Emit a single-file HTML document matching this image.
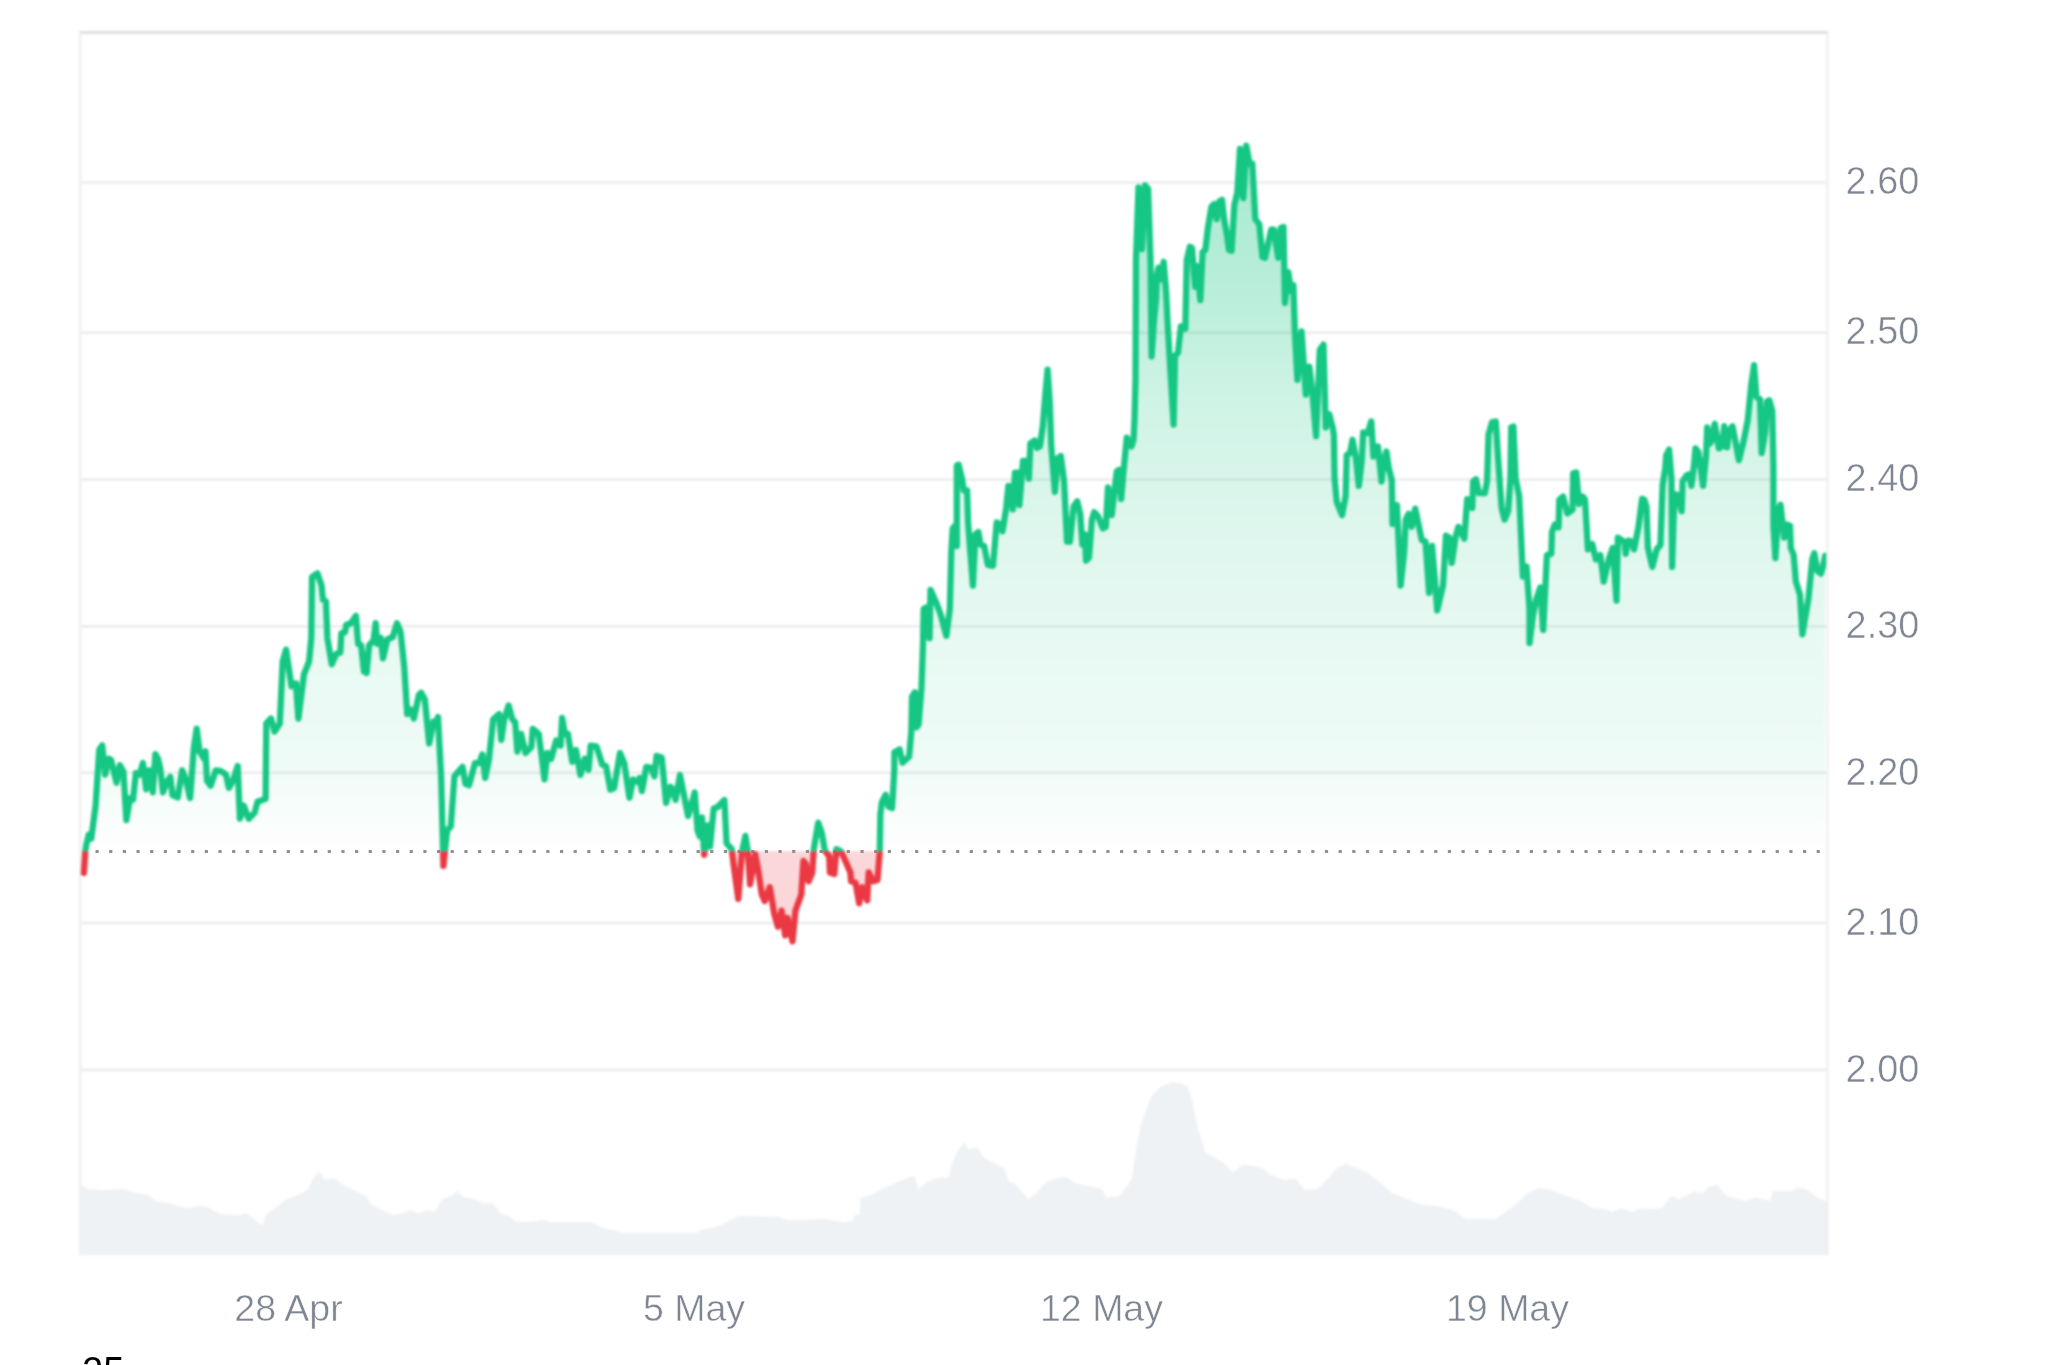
<!DOCTYPE html>
<html lang="en"><head><meta charset="utf-8"><title>Chart</title>
<style>
html,body{margin:0;padding:0;background:#fff;}
body{width:2048px;height:1365px;overflow:hidden;position:relative;font-family:"Liberation Sans",Arial,sans-serif;}
svg{position:absolute;left:0;top:0;display:block}
text{font-family:"Liberation Sans",Arial,sans-serif;}
</style></head><body>
<svg width="2048" height="1365" viewBox="0 0 2048 1365">
<defs>
<linearGradient id="gg" gradientUnits="userSpaceOnUse" x1="0" y1="145" x2="0" y2="851.2">
<stop offset="0.0000" stop-color="#16c784" stop-opacity="0.380"/>
<stop offset="0.2053" stop-color="#16c784" stop-opacity="0.300"/>
<stop offset="0.3611" stop-color="#16c784" stop-opacity="0.205"/>
<stop offset="0.5310" stop-color="#16c784" stop-opacity="0.145"/>
<stop offset="0.7293" stop-color="#16c784" stop-opacity="0.095"/>
<stop offset="0.8779" stop-color="#16c784" stop-opacity="0.068"/>
<stop offset="1.0000" stop-color="#16c784" stop-opacity="0.000"/>
</linearGradient>
<clipPath id="up"><rect x="79" y="0" width="1747.3" height="851.2"/></clipPath>
<clipPath id="dn"><rect x="79" y="851.2" width="1747.3" height="600"/></clipPath>
<filter id="b1" filterUnits="userSpaceOnUse" x="0" y="0" width="2048" height="1365" color-interpolation-filters="sRGB"><feGaussianBlur stdDeviation="0.85"/></filter>
</defs>
<g filter="url(#b1)">
<rect x="-10" y="-10" width="2068" height="1385" fill="#ffffff"/>

<g stroke="#ececec" stroke-width="2.6" fill="none">
<line x1="80.0" y1="182.5" x2="1827.5" y2="182.5"/>
<line x1="80.0" y1="332.6" x2="1827.5" y2="332.6"/>
<line x1="80.0" y1="479.5" x2="1827.5" y2="479.5"/>
<line x1="80.0" y1="626.2" x2="1827.5" y2="626.2"/>
<line x1="80.0" y1="772.8" x2="1827.5" y2="772.8"/>
<line x1="80.0" y1="923.0" x2="1827.5" y2="923.0"/>
<line x1="80.0" y1="1069.9" x2="1827.5" y2="1069.9"/>
</g>
<path d="M79.4 1255.3 L79.4 1184.3 L87.6 1188.7 L105.2 1190.1 L122.7 1188.7 L137.4 1193.0 L147.6 1194.5 L155.0 1200.4 L169.6 1203.3 L178.4 1206.2 L190.1 1207.7 L198.9 1205.4 L207.7 1207.1 L219.4 1214.1 L239.9 1215.0 L245.8 1213.0 L254.6 1219.4 L261.9 1225.3 L266.3 1213.6 L275.1 1207.7 L286.8 1198.9 L295.6 1196.0 L307.3 1190.1 L313.2 1178.4 L319.0 1171.1 L324.9 1179.9 L333.7 1177.8 L342.5 1184.3 L351.2 1188.7 L365.9 1196.0 L371.8 1204.8 L383.5 1210.6 L392.3 1215.0 L401.1 1213.6 L409.8 1210.0 L418.6 1213.6 L427.4 1210.0 L434.7 1212.1 L442.1 1198.9 L453.8 1194.5 L456.7 1190.7 L462.6 1196.6 L474.3 1198.9 L483.1 1203.3 L493.3 1203.3 L500.7 1213.6 L509.5 1215.9 L516.8 1221.8 L532.9 1221.8 L541.7 1219.4 L550.5 1222.3 L568.0 1222.3 L591.5 1222.3 L600.3 1226.7 L614.9 1230.5 L620.8 1232.6 L650.1 1232.6 L696.9 1232.6 L701.3 1229.7 L717.4 1226.7 L729.1 1220.9 L737.9 1215.9 L778.9 1216.5 L787.7 1220.0 L814.1 1219.4 L825.8 1218.8 L843.4 1222.3 L852.1 1220.9 L855.1 1215.0 L859.5 1215.0 L860.4 1197.4 L872.7 1194.5 L884.4 1187.2 L896.1 1182.8 L907.8 1177.8 L915.1 1175.5 L918.1 1190.1 L925.4 1182.8 L934.2 1178.4 L948.8 1176.9 L951.8 1163.8 L957.6 1150.6 L964.9 1141.8 L967.9 1149.1 L978.1 1147.6 L984.0 1157.9 L995.7 1163.8 L1004.5 1168.1 L1008.9 1181.3 L1016.2 1184.3 L1027.9 1198.9 L1036.7 1193.0 L1045.5 1182.8 L1054.3 1178.4 L1066.0 1176.9 L1074.8 1182.8 L1086.5 1185.7 L1101.2 1188.7 L1107.0 1197.4 L1118.8 1196.0 L1127.5 1185.7 L1131.9 1178.4 L1136.3 1146.2 L1142.2 1119.8 L1151.0 1096.4 L1159.8 1087.6 L1171.5 1082.3 L1180.3 1083.2 L1187.6 1086.1 L1192.0 1099.3 L1197.9 1128.6 L1205.2 1152.0 L1215.4 1157.9 L1224.2 1163.8 L1233.0 1172.5 L1241.8 1165.2 L1250.0 1165.2 L1263.4 1168.1 L1269.3 1174.0 L1283.9 1179.9 L1295.7 1178.4 L1304.5 1190.1 L1317.6 1188.7 L1327.9 1178.4 L1336.7 1168.1 L1345.5 1163.8 L1357.2 1168.1 L1368.9 1174.0 L1380.6 1182.8 L1392.3 1193.0 L1407.0 1198.9 L1421.6 1204.8 L1439.2 1206.2 L1453.9 1210.6 L1465.6 1218.8 L1494.9 1218.8 L1503.7 1213.0 L1515.4 1204.8 L1527.1 1193.0 L1538.8 1188.1 L1550.5 1189.5 L1562.3 1194.5 L1579.8 1200.4 L1591.6 1207.7 L1606.2 1209.2 L1612.1 1212.1 L1620.9 1208.3 L1632.6 1212.1 L1638.4 1208.6 L1661.9 1208.3 L1670.7 1196.0 L1679.5 1198.9 L1694.1 1191.6 L1702.9 1193.0 L1708.8 1186.6 L1717.5 1184.8 L1726.3 1196.0 L1738.0 1198.9 L1746.8 1200.4 L1755.6 1197.4 L1770.3 1200.4 L1773.2 1190.7 L1790.8 1190.7 L1796.6 1188.1 L1805.4 1188.7 L1817.1 1197.4 L1828.3 1201.8 L1828.3 1255.3 Z" fill="#eff2f5"/>
<line x1="79.0" y1="32.5" x2="1828.5" y2="32.5" stroke="#e0e0e0" stroke-width="3.2"/>
<line x1="80.2" y1="32.5" x2="80.2" y2="1255.3" stroke="#f0f0f0" stroke-width="2.6"/>
<line x1="1827.5" y1="32.5" x2="1827.5" y2="1255.3" stroke="#f0f0f0" stroke-width="2.4"/>
<path d="M83.9 872.8 L85.3 851.0 L86.7 843.0 L88.8 834.6 L91.3 838.6 L92.4 829.8 L95.6 805.5 L99.3 749.8 L102.2 745.4 L105.2 774.7 L108.4 758.6 L111.0 760.1 L116.6 782.8 L119.8 765.2 L123.5 771.8 L126.4 820.1 L130.1 798.1 L133.0 799.6 L135.9 773.2 L139.6 774.7 L142.9 763.0 L146.2 789.4 L149.1 770.3 L152.8 792.3 L155.4 754.2 L157.9 758.6 L160.1 767.4 L163.0 792.3 L166.7 782.0 L170.3 776.9 L172.5 795.2 L177.7 797.4 L182.1 770.3 L185.7 779.1 L190.1 798.1 L193.8 748.3 L196.7 728.6 L199.6 751.3 L204.0 758.6 L205.5 751.3 L207.0 780.6 L210.6 785.7 L215.8 770.3 L220.9 771.0 L226.0 774.7 L228.9 787.9 L233.3 779.8 L237.7 765.9 L239.9 818.7 L243.6 805.5 L248.7 818.7 L254.6 812.8 L257.5 801.8 L265.6 798.9 L266.3 723.4 L271.0 718.5 L274.6 731.6 L279.8 723.6 L282.7 661.3 L286.1 649.6 L291.5 686.2 L295.9 683.3 L298.4 718.5 L303.9 674.5 L309.1 661.3 L311.3 637.9 L312.0 577.1 L317.4 573.4 L321.5 585.2 L323.0 599.8 L325.9 601.3 L327.4 637.9 L331.8 664.3 L336.2 654.0 L340.3 652.5 L341.3 633.5 L345.0 632.0 L346.4 624.7 L350.8 623.2 L355.9 615.9 L358.1 643.8 L361.1 645.2 L364.0 671.6 L366.6 673.0 L369.1 645.2 L373.5 640.8 L375.7 623.2 L377.2 643.8 L380.8 637.9 L383.0 658.4 L387.4 639.4 L392.6 637.2 L397.0 623.2 L400.6 632.0 L404.3 667.2 L407.2 714.1 L410.9 709.7 L413.8 718.5 L418.9 695.0 L421.1 692.8 L424.8 699.4 L429.2 743.4 L433.6 721.4 L435.8 725.8 L438.0 717.0 L441.2 777.9 L443.4 865.8 L447.1 830.6 L450.8 826.2 L454.4 776.4 L462.5 766.9 L465.4 783.8 L469.1 785.2 L474.9 763.2 L479.3 763.2 L482.3 754.5 L485.2 777.9 L488.8 760.3 L493.2 719.3 L499.1 714.2 L501.3 739.8 L504.2 719.3 L508.6 705.4 L512.3 719.3 L515.2 722.2 L517.4 751.5 L521.1 733.9 L525.5 753.0 L531.3 747.1 L532.8 728.8 L538.7 733.9 L541.6 755.9 L544.5 779.4 L547.4 753.0 L551.1 758.8 L556.2 740.5 L560.6 745.7 L562.1 717.8 L565.0 733.9 L567.9 733.9 L572.3 761.8 L576.0 750.1 L580.4 775.0 L584.8 758.8 L588.5 769.8 L590.7 745.7 L596.5 746.4 L602.4 764.7 L606.0 766.2 L610.4 789.6 L614.1 788.1 L620.0 753.0 L624.3 763.2 L629.5 797.7 L633.1 779.4 L638.3 782.3 L639.7 777.9 L641.9 791.1 L646.3 766.9 L650.7 767.6 L654.4 776.4 L656.6 755.9 L661.7 757.4 L666.1 802.8 L670.5 786.7 L672.7 789.6 L675.6 799.9 L680.0 775.0 L688.1 816.0 L694.7 792.5 L697.6 830.6 L699.8 836.5 L702.0 817.4 L704.2 854.8 L707.8 825.5 L710.0 846.7 L713.7 808.7 L717.4 807.2 L724.4 800.0 L726.6 843.2 L731.7 849.1 L733.9 866.7 L738.3 898.9 L742.0 852.0 L745.4 835.9 L747.9 852.0 L750.1 884.3 L755.2 854.2 L758.1 869.6 L761.8 894.5 L764.7 901.1 L769.8 887.2 L774.2 913.6 L777.9 926.7 L781.6 910.6 L785.2 935.5 L787.4 917.9 L792.5 941.4 L795.5 910.6 L801.3 894.5 L803.5 860.8 L805.7 863.8 L808.7 881.3 L812.3 872.5 L813.8 849.1 L818.2 822.7 L821.8 833.0 L824.8 850.6 L829.2 856.4 L829.9 872.5 L834.3 874.0 L836.5 849.1 L840.9 851.3 L845.3 860.8 L850.4 872.5 L851.1 881.3 L855.5 882.8 L859.2 903.3 L862.1 887.2 L867.2 900.4 L868.7 872.5 L873.1 881.3 L877.5 879.9 L879.7 852.0 L880.4 813.9 L881.9 802.2 L885.6 794.9 L888.5 806.6 L892.1 808.1 L894.3 770.0 L894.3 769.9 L894.4 752.3 L899.6 749.4 L902.5 762.6 L909.1 756.7 L911.3 731.8 L912.0 696.7 L914.9 692.3 L916.4 727.4 L918.6 724.5 L921.5 687.9 L923.0 643.9 L923.7 608.8 L926.7 607.3 L929.6 638.1 L930.5 589.9 L935.2 600.2 L940.3 613.4 L946.4 635.9 L949.8 609.0 L951.3 551.8 L952.7 528.4 L955.4 525.5 L956.8 546.0 L956.8 465.4 L958.6 464.7 L962.3 480.1 L963.7 490.3 L967.1 490.3 L968.1 522.5 L970.3 551.8 L972.9 585.5 L975.4 534.3 L978.4 532.1 L980.6 544.5 L984.2 546.0 L987.9 565.0 L993.0 565.8 L996.7 522.5 L999.6 524.0 L1002.5 531.3 L1006.2 507.9 L1008.4 485.9 L1012.1 487.4 L1012.8 509.4 L1015.0 472.7 L1017.9 472.7 L1019.4 505.0 L1023.0 461.0 L1026.7 461.0 L1028.9 478.6 L1030.4 443.4 L1034.8 440.5 L1037.0 447.8 L1039.9 446.4 L1042.8 425.9 L1042.8 425.8 L1045.4 393.8 L1047.6 369.6 L1049.8 402.5 L1051.3 446.5 L1054.9 491.9 L1057.9 458.2 L1060.8 456.0 L1064.1 481.5 L1067.0 541.6 L1069.9 541.6 L1073.6 506.4 L1077.2 501.3 L1080.2 513.8 L1082.4 544.5 L1084.9 534.3 L1086.0 560.6 L1089.0 557.7 L1091.9 519.6 L1094.1 512.3 L1097.8 515.9 L1102.9 528.4 L1105.8 526.9 L1108.0 487.4 L1111.7 515.2 L1116.8 471.3 L1119.0 469.8 L1121.2 499.1 L1123.4 472.7 L1126.8 437.6 L1131.4 446.4 L1133.5 440.0 L1134.5 420.0 L1135.5 380.0 L1136.0 260.0 L1138.5 187.5 L1142.0 249.0 L1145.0 185.3 L1148.1 188.8 L1150.5 260.0 L1151.6 356.4 L1154.0 320.0 L1156.0 300.0 L1157.0 275.0 L1158.6 267.6 L1160.8 279.4 L1163.7 261.8 L1166.0 291.0 L1168.0 330.0 L1173.6 424.5 L1175.0 355.7 L1178.0 352.7 L1180.9 326.4 L1185.3 328.6 L1186.8 260.0 L1189.9 246.8 L1192.0 248.0 L1193.8 270.6 L1195.2 286.8 L1197.4 266.2 L1200.3 300.0 L1202.6 252.0 L1205.3 250.0 L1207.9 228.0 L1211.4 206.8 L1214.0 204.2 L1216.7 219.1 L1219.3 201.5 L1222.0 199.8 L1224.1 219.1 L1227.2 236.7 L1229.0 249.9 L1231.6 250.7 L1234.3 205.0 L1237.3 192.7 L1240.0 148.8 L1243.3 198.0 L1246.3 145.7 L1249.6 163.7 L1252.3 163.7 L1255.3 219.0 L1259.3 224.4 L1262.4 256.9 L1265.0 257.8 L1271.2 229.6 L1273.8 229.6 L1278.2 257.8 L1280.8 227.9 L1283.5 227.0 L1284.9 302.9 L1288.2 272.1 L1291.2 291.2 L1293.4 285.3 L1294.8 330.0 L1297.4 379.8 L1301.5 331.5 L1305.9 394.5 L1309.3 366.7 L1312.5 393.8 L1316.1 436.2 L1319.8 349.8 L1323.5 344.7 L1325.7 427.4 L1329.3 414.3 L1333.0 428.9 L1333.9 434.6 L1334.6 478.6 L1336.8 502.0 L1342.0 515.2 L1345.6 496.2 L1346.7 455.2 L1350.0 453.0 L1352.5 439.8 L1355.9 458.1 L1358.8 485.9 L1361.7 461.0 L1363.2 432.5 L1367.6 433.2 L1371.3 421.5 L1373.5 456.6 L1377.9 446.4 L1381.5 481.5 L1383.7 461.0 L1386.4 451.5 L1388.8 468.3 L1391.8 480.1 L1392.5 524.0 L1396.9 505.0 L1399.1 551.8 L1400.6 585.5 L1404.2 551.8 L1405.7 519.6 L1408.6 513.8 L1411.6 526.9 L1415.2 508.6 L1418.1 522.5 L1421.8 540.1 L1425.5 541.6 L1429.1 592.9 L1432.1 546.0 L1435.0 581.1 L1437.2 610.4 L1443.0 585.5 L1446.0 535.7 L1448.9 537.2 L1451.8 562.8 L1455.5 537.2 L1458.4 526.9 L1464.3 538.7 L1467.2 499.1 L1472.3 507.9 L1473.1 481.5 L1476.0 479.3 L1478.9 493.2 L1484.8 493.2 L1487.0 481.5 L1488.5 434.6 L1492.1 422.2 L1495.8 421.5 L1498.0 456.6 L1501.6 507.9 L1504.6 519.6 L1508.2 510.8 L1510.4 478.6 L1511.2 427.3 L1513.4 426.6 L1515.6 478.6 L1519.2 496.2 L1522.9 576.7 L1526.5 566.5 L1529.5 609.0 L1529.5 643.1 L1533.0 615.3 L1535.9 600.6 L1540.3 587.4 L1543.2 629.9 L1546.9 555.2 L1551.3 553.8 L1552.0 531.8 L1554.9 524.5 L1558.6 527.4 L1559.3 499.6 L1563.0 496.6 L1567.4 513.5 L1572.5 509.8 L1573.2 473.2 L1576.2 472.5 L1579.1 503.9 L1582.8 496.6 L1585.0 499.6 L1587.9 549.4 L1592.3 544.2 L1595.9 559.6 L1600.3 555.2 L1603.7 581.6 L1609.1 558.1 L1612.8 547.9 L1616.5 600.6 L1617.9 537.6 L1624.5 542.0 L1625.7 553.8 L1628.2 540.6 L1632.6 542.0 L1634.0 549.4 L1638.4 527.4 L1642.1 498.8 L1644.3 499.6 L1646.5 506.9 L1647.9 547.9 L1652.3 566.9 L1656.7 549.4 L1660.4 545.0 L1662.6 484.9 L1665.2 468.8 L1666.2 455.5 L1669.1 449.6 L1671.5 478.9 L1672.1 566.9 L1674.4 494.1 L1677.9 495.3 L1681.6 511.3 L1682.6 481.3 L1686.7 475.4 L1689.1 474.2 L1691.4 485.9 L1693.8 467.2 L1695.5 448.4 L1698.4 452.0 L1703.1 485.9 L1706.1 455.5 L1707.2 427.3 L1709.6 443.8 L1711.3 441.4 L1714.8 423.8 L1717.2 437.9 L1718.9 448.4 L1722.5 446.1 L1724.2 426.2 L1727.1 447.3 L1728.9 432.0 L1732.4 426.2 L1734.8 437.9 L1738.9 460.2 L1743.0 443.8 L1747.7 420.3 L1751.2 385.2 L1754.1 365.2 L1756.4 396.9 L1760.0 399.2 L1761.7 453.1 L1765.2 432.0 L1767.0 401.6 L1769.3 400.4 L1772.3 410.9 L1773.4 467.2 L1773.4 525.9 L1775.4 558.1 L1778.3 511.3 L1780.5 504.7 L1784.2 537.6 L1787.1 524.5 L1790.0 525.9 L1790.8 547.9 L1793.7 555.2 L1795.9 581.6 L1800.0 594.7 L1802.4 634.3 L1808.4 598.7 L1812.3 559.1 L1814.3 553.2 L1817.6 571.0 L1820.9 573.6 L1823.5 564.4 L1825.1 555.8 L1825.1 851.2 L83.9 851.2 Z" fill="url(#gg)" clip-path="url(#up)"/>
<path d="M83.9 851.2 L83.9 872.8 L85.3 851.2 Z" fill="#ea3943" fill-opacity="0.2"/>
<path d="M443.0 851.2 L443.4 865.8 L444.9 851.2 Z" fill="#ea3943" fill-opacity="0.2"/>
<path d="M704.0 851.2 L704.2 854.8 L704.6 851.2 Z" fill="#ea3943" fill-opacity="0.2"/>
<path d="M732.0 851.2 L733.9 866.7 L738.3 898.9 L742.0 852.0 L742.2 851.2 Z" fill="#ea3943" fill-opacity="0.2"/>
<path d="M747.8 851.2 L747.9 852.0 L750.1 884.3 L755.2 854.2 L758.1 869.6 L761.8 894.5 L764.7 901.1 L769.8 887.2 L774.2 913.6 L777.9 926.7 L781.6 910.6 L785.2 935.5 L787.4 917.9 L792.5 941.4 L795.5 910.6 L801.3 894.5 L803.5 860.8 L805.7 863.8 L808.7 881.3 L812.3 872.5 L813.7 851.2 Z" fill="#ea3943" fill-opacity="0.2"/>
<path d="M825.3 851.2 L829.2 856.4 L829.9 872.5 L834.3 874.0 L836.3 851.2 Z" fill="#ea3943" fill-opacity="0.2"/>
<path d="M840.7 851.2 L840.9 851.3 L845.3 860.8 L850.4 872.5 L851.1 881.3 L855.5 882.8 L859.2 903.3 L862.1 887.2 L867.2 900.4 L868.7 872.5 L873.1 881.3 L877.5 879.9 L879.7 852.0 L879.7 851.2 Z" fill="#ea3943" fill-opacity="0.2"/>
</g>
<line x1="95.5" y1="851.5" x2="1827.5" y2="851.5" stroke="#909090" stroke-width="3.0" stroke-dasharray="3.2 10.46" stroke-dashoffset="0"/>
<g filter="url(#b1)">
<g fill="none" stroke-width="6.3" stroke-linejoin="round" stroke-linecap="round">
<path d="M83.9 872.8 L85.3 851.0 L86.7 843.0 L88.8 834.6 L91.3 838.6 L92.4 829.8 L95.6 805.5 L99.3 749.8 L102.2 745.4 L105.2 774.7 L108.4 758.6 L111.0 760.1 L116.6 782.8 L119.8 765.2 L123.5 771.8 L126.4 820.1 L130.1 798.1 L133.0 799.6 L135.9 773.2 L139.6 774.7 L142.9 763.0 L146.2 789.4 L149.1 770.3 L152.8 792.3 L155.4 754.2 L157.9 758.6 L160.1 767.4 L163.0 792.3 L166.7 782.0 L170.3 776.9 L172.5 795.2 L177.7 797.4 L182.1 770.3 L185.7 779.1 L190.1 798.1 L193.8 748.3 L196.7 728.6 L199.6 751.3 L204.0 758.6 L205.5 751.3 L207.0 780.6 L210.6 785.7 L215.8 770.3 L220.9 771.0 L226.0 774.7 L228.9 787.9 L233.3 779.8 L237.7 765.9 L239.9 818.7 L243.6 805.5 L248.7 818.7 L254.6 812.8 L257.5 801.8 L265.6 798.9 L266.3 723.4 L271.0 718.5 L274.6 731.6 L279.8 723.6 L282.7 661.3 L286.1 649.6 L291.5 686.2 L295.9 683.3 L298.4 718.5 L303.9 674.5 L309.1 661.3 L311.3 637.9 L312.0 577.1 L317.4 573.4 L321.5 585.2 L323.0 599.8 L325.9 601.3 L327.4 637.9 L331.8 664.3 L336.2 654.0 L340.3 652.5 L341.3 633.5 L345.0 632.0 L346.4 624.7 L350.8 623.2 L355.9 615.9 L358.1 643.8 L361.1 645.2 L364.0 671.6 L366.6 673.0 L369.1 645.2 L373.5 640.8 L375.7 623.2 L377.2 643.8 L380.8 637.9 L383.0 658.4 L387.4 639.4 L392.6 637.2 L397.0 623.2 L400.6 632.0 L404.3 667.2 L407.2 714.1 L410.9 709.7 L413.8 718.5 L418.9 695.0 L421.1 692.8 L424.8 699.4 L429.2 743.4 L433.6 721.4 L435.8 725.8 L438.0 717.0 L441.2 777.9 L443.4 865.8 L447.1 830.6 L450.8 826.2 L454.4 776.4 L462.5 766.9 L465.4 783.8 L469.1 785.2 L474.9 763.2 L479.3 763.2 L482.3 754.5 L485.2 777.9 L488.8 760.3 L493.2 719.3 L499.1 714.2 L501.3 739.8 L504.2 719.3 L508.6 705.4 L512.3 719.3 L515.2 722.2 L517.4 751.5 L521.1 733.9 L525.5 753.0 L531.3 747.1 L532.8 728.8 L538.7 733.9 L541.6 755.9 L544.5 779.4 L547.4 753.0 L551.1 758.8 L556.2 740.5 L560.6 745.7 L562.1 717.8 L565.0 733.9 L567.9 733.9 L572.3 761.8 L576.0 750.1 L580.4 775.0 L584.8 758.8 L588.5 769.8 L590.7 745.7 L596.5 746.4 L602.4 764.7 L606.0 766.2 L610.4 789.6 L614.1 788.1 L620.0 753.0 L624.3 763.2 L629.5 797.7 L633.1 779.4 L638.3 782.3 L639.7 777.9 L641.9 791.1 L646.3 766.9 L650.7 767.6 L654.4 776.4 L656.6 755.9 L661.7 757.4 L666.1 802.8 L670.5 786.7 L672.7 789.6 L675.6 799.9 L680.0 775.0 L688.1 816.0 L694.7 792.5 L697.6 830.6 L699.8 836.5 L702.0 817.4 L704.2 854.8 L707.8 825.5 L710.0 846.7 L713.7 808.7 L717.4 807.2 L724.4 800.0 L726.6 843.2 L731.7 849.1 L733.9 866.7 L738.3 898.9 L742.0 852.0 L745.4 835.9 L747.9 852.0 L750.1 884.3 L755.2 854.2 L758.1 869.6 L761.8 894.5 L764.7 901.1 L769.8 887.2 L774.2 913.6 L777.9 926.7 L781.6 910.6 L785.2 935.5 L787.4 917.9 L792.5 941.4 L795.5 910.6 L801.3 894.5 L803.5 860.8 L805.7 863.8 L808.7 881.3 L812.3 872.5 L813.8 849.1 L818.2 822.7 L821.8 833.0 L824.8 850.6 L829.2 856.4 L829.9 872.5 L834.3 874.0 L836.5 849.1 L840.9 851.3 L845.3 860.8 L850.4 872.5 L851.1 881.3 L855.5 882.8 L859.2 903.3 L862.1 887.2 L867.2 900.4 L868.7 872.5 L873.1 881.3 L877.5 879.9 L879.7 852.0 L880.4 813.9 L881.9 802.2 L885.6 794.9 L888.5 806.6 L892.1 808.1 L894.3 770.0 L894.3 769.9 L894.4 752.3 L899.6 749.4 L902.5 762.6 L909.1 756.7 L911.3 731.8 L912.0 696.7 L914.9 692.3 L916.4 727.4 L918.6 724.5 L921.5 687.9 L923.0 643.9 L923.7 608.8 L926.7 607.3 L929.6 638.1 L930.5 589.9 L935.2 600.2 L940.3 613.4 L946.4 635.9 L949.8 609.0 L951.3 551.8 L952.7 528.4 L955.4 525.5 L956.8 546.0 L956.8 465.4 L958.6 464.7 L962.3 480.1 L963.7 490.3 L967.1 490.3 L968.1 522.5 L970.3 551.8 L972.9 585.5 L975.4 534.3 L978.4 532.1 L980.6 544.5 L984.2 546.0 L987.9 565.0 L993.0 565.8 L996.7 522.5 L999.6 524.0 L1002.5 531.3 L1006.2 507.9 L1008.4 485.9 L1012.1 487.4 L1012.8 509.4 L1015.0 472.7 L1017.9 472.7 L1019.4 505.0 L1023.0 461.0 L1026.7 461.0 L1028.9 478.6 L1030.4 443.4 L1034.8 440.5 L1037.0 447.8 L1039.9 446.4 L1042.8 425.9 L1042.8 425.8 L1045.4 393.8 L1047.6 369.6 L1049.8 402.5 L1051.3 446.5 L1054.9 491.9 L1057.9 458.2 L1060.8 456.0 L1064.1 481.5 L1067.0 541.6 L1069.9 541.6 L1073.6 506.4 L1077.2 501.3 L1080.2 513.8 L1082.4 544.5 L1084.9 534.3 L1086.0 560.6 L1089.0 557.7 L1091.9 519.6 L1094.1 512.3 L1097.8 515.9 L1102.9 528.4 L1105.8 526.9 L1108.0 487.4 L1111.7 515.2 L1116.8 471.3 L1119.0 469.8 L1121.2 499.1 L1123.4 472.7 L1126.8 437.6 L1131.4 446.4 L1133.5 440.0 L1134.5 420.0 L1135.5 380.0 L1136.0 260.0 L1138.5 187.5 L1142.0 249.0 L1145.0 185.3 L1148.1 188.8 L1150.5 260.0 L1151.6 356.4 L1154.0 320.0 L1156.0 300.0 L1157.0 275.0 L1158.6 267.6 L1160.8 279.4 L1163.7 261.8 L1166.0 291.0 L1168.0 330.0 L1173.6 424.5 L1175.0 355.7 L1178.0 352.7 L1180.9 326.4 L1185.3 328.6 L1186.8 260.0 L1189.9 246.8 L1192.0 248.0 L1193.8 270.6 L1195.2 286.8 L1197.4 266.2 L1200.3 300.0 L1202.6 252.0 L1205.3 250.0 L1207.9 228.0 L1211.4 206.8 L1214.0 204.2 L1216.7 219.1 L1219.3 201.5 L1222.0 199.8 L1224.1 219.1 L1227.2 236.7 L1229.0 249.9 L1231.6 250.7 L1234.3 205.0 L1237.3 192.7 L1240.0 148.8 L1243.3 198.0 L1246.3 145.7 L1249.6 163.7 L1252.3 163.7 L1255.3 219.0 L1259.3 224.4 L1262.4 256.9 L1265.0 257.8 L1271.2 229.6 L1273.8 229.6 L1278.2 257.8 L1280.8 227.9 L1283.5 227.0 L1284.9 302.9 L1288.2 272.1 L1291.2 291.2 L1293.4 285.3 L1294.8 330.0 L1297.4 379.8 L1301.5 331.5 L1305.9 394.5 L1309.3 366.7 L1312.5 393.8 L1316.1 436.2 L1319.8 349.8 L1323.5 344.7 L1325.7 427.4 L1329.3 414.3 L1333.0 428.9 L1333.9 434.6 L1334.6 478.6 L1336.8 502.0 L1342.0 515.2 L1345.6 496.2 L1346.7 455.2 L1350.0 453.0 L1352.5 439.8 L1355.9 458.1 L1358.8 485.9 L1361.7 461.0 L1363.2 432.5 L1367.6 433.2 L1371.3 421.5 L1373.5 456.6 L1377.9 446.4 L1381.5 481.5 L1383.7 461.0 L1386.4 451.5 L1388.8 468.3 L1391.8 480.1 L1392.5 524.0 L1396.9 505.0 L1399.1 551.8 L1400.6 585.5 L1404.2 551.8 L1405.7 519.6 L1408.6 513.8 L1411.6 526.9 L1415.2 508.6 L1418.1 522.5 L1421.8 540.1 L1425.5 541.6 L1429.1 592.9 L1432.1 546.0 L1435.0 581.1 L1437.2 610.4 L1443.0 585.5 L1446.0 535.7 L1448.9 537.2 L1451.8 562.8 L1455.5 537.2 L1458.4 526.9 L1464.3 538.7 L1467.2 499.1 L1472.3 507.9 L1473.1 481.5 L1476.0 479.3 L1478.9 493.2 L1484.8 493.2 L1487.0 481.5 L1488.5 434.6 L1492.1 422.2 L1495.8 421.5 L1498.0 456.6 L1501.6 507.9 L1504.6 519.6 L1508.2 510.8 L1510.4 478.6 L1511.2 427.3 L1513.4 426.6 L1515.6 478.6 L1519.2 496.2 L1522.9 576.7 L1526.5 566.5 L1529.5 609.0 L1529.5 643.1 L1533.0 615.3 L1535.9 600.6 L1540.3 587.4 L1543.2 629.9 L1546.9 555.2 L1551.3 553.8 L1552.0 531.8 L1554.9 524.5 L1558.6 527.4 L1559.3 499.6 L1563.0 496.6 L1567.4 513.5 L1572.5 509.8 L1573.2 473.2 L1576.2 472.5 L1579.1 503.9 L1582.8 496.6 L1585.0 499.6 L1587.9 549.4 L1592.3 544.2 L1595.9 559.6 L1600.3 555.2 L1603.7 581.6 L1609.1 558.1 L1612.8 547.9 L1616.5 600.6 L1617.9 537.6 L1624.5 542.0 L1625.7 553.8 L1628.2 540.6 L1632.6 542.0 L1634.0 549.4 L1638.4 527.4 L1642.1 498.8 L1644.3 499.6 L1646.5 506.9 L1647.9 547.9 L1652.3 566.9 L1656.7 549.4 L1660.4 545.0 L1662.6 484.9 L1665.2 468.8 L1666.2 455.5 L1669.1 449.6 L1671.5 478.9 L1672.1 566.9 L1674.4 494.1 L1677.9 495.3 L1681.6 511.3 L1682.6 481.3 L1686.7 475.4 L1689.1 474.2 L1691.4 485.9 L1693.8 467.2 L1695.5 448.4 L1698.4 452.0 L1703.1 485.9 L1706.1 455.5 L1707.2 427.3 L1709.6 443.8 L1711.3 441.4 L1714.8 423.8 L1717.2 437.9 L1718.9 448.4 L1722.5 446.1 L1724.2 426.2 L1727.1 447.3 L1728.9 432.0 L1732.4 426.2 L1734.8 437.9 L1738.9 460.2 L1743.0 443.8 L1747.7 420.3 L1751.2 385.2 L1754.1 365.2 L1756.4 396.9 L1760.0 399.2 L1761.7 453.1 L1765.2 432.0 L1767.0 401.6 L1769.3 400.4 L1772.3 410.9 L1773.4 467.2 L1773.4 525.9 L1775.4 558.1 L1778.3 511.3 L1780.5 504.7 L1784.2 537.6 L1787.1 524.5 L1790.0 525.9 L1790.8 547.9 L1793.7 555.2 L1795.9 581.6 L1800.0 594.7 L1802.4 634.3 L1808.4 598.7 L1812.3 559.1 L1814.3 553.2 L1817.6 571.0 L1820.9 573.6 L1823.5 564.4 L1825.1 555.8" stroke="#16c784" clip-path="url(#up)"/>
<path d="M83.9 872.8 L85.3 851.0 L86.7 843.0 L88.8 834.6 L91.3 838.6 L92.4 829.8 L95.6 805.5 L99.3 749.8 L102.2 745.4 L105.2 774.7 L108.4 758.6 L111.0 760.1 L116.6 782.8 L119.8 765.2 L123.5 771.8 L126.4 820.1 L130.1 798.1 L133.0 799.6 L135.9 773.2 L139.6 774.7 L142.9 763.0 L146.2 789.4 L149.1 770.3 L152.8 792.3 L155.4 754.2 L157.9 758.6 L160.1 767.4 L163.0 792.3 L166.7 782.0 L170.3 776.9 L172.5 795.2 L177.7 797.4 L182.1 770.3 L185.7 779.1 L190.1 798.1 L193.8 748.3 L196.7 728.6 L199.6 751.3 L204.0 758.6 L205.5 751.3 L207.0 780.6 L210.6 785.7 L215.8 770.3 L220.9 771.0 L226.0 774.7 L228.9 787.9 L233.3 779.8 L237.7 765.9 L239.9 818.7 L243.6 805.5 L248.7 818.7 L254.6 812.8 L257.5 801.8 L265.6 798.9 L266.3 723.4 L271.0 718.5 L274.6 731.6 L279.8 723.6 L282.7 661.3 L286.1 649.6 L291.5 686.2 L295.9 683.3 L298.4 718.5 L303.9 674.5 L309.1 661.3 L311.3 637.9 L312.0 577.1 L317.4 573.4 L321.5 585.2 L323.0 599.8 L325.9 601.3 L327.4 637.9 L331.8 664.3 L336.2 654.0 L340.3 652.5 L341.3 633.5 L345.0 632.0 L346.4 624.7 L350.8 623.2 L355.9 615.9 L358.1 643.8 L361.1 645.2 L364.0 671.6 L366.6 673.0 L369.1 645.2 L373.5 640.8 L375.7 623.2 L377.2 643.8 L380.8 637.9 L383.0 658.4 L387.4 639.4 L392.6 637.2 L397.0 623.2 L400.6 632.0 L404.3 667.2 L407.2 714.1 L410.9 709.7 L413.8 718.5 L418.9 695.0 L421.1 692.8 L424.8 699.4 L429.2 743.4 L433.6 721.4 L435.8 725.8 L438.0 717.0 L441.2 777.9 L443.4 865.8 L447.1 830.6 L450.8 826.2 L454.4 776.4 L462.5 766.9 L465.4 783.8 L469.1 785.2 L474.9 763.2 L479.3 763.2 L482.3 754.5 L485.2 777.9 L488.8 760.3 L493.2 719.3 L499.1 714.2 L501.3 739.8 L504.2 719.3 L508.6 705.4 L512.3 719.3 L515.2 722.2 L517.4 751.5 L521.1 733.9 L525.5 753.0 L531.3 747.1 L532.8 728.8 L538.7 733.9 L541.6 755.9 L544.5 779.4 L547.4 753.0 L551.1 758.8 L556.2 740.5 L560.6 745.7 L562.1 717.8 L565.0 733.9 L567.9 733.9 L572.3 761.8 L576.0 750.1 L580.4 775.0 L584.8 758.8 L588.5 769.8 L590.7 745.7 L596.5 746.4 L602.4 764.7 L606.0 766.2 L610.4 789.6 L614.1 788.1 L620.0 753.0 L624.3 763.2 L629.5 797.7 L633.1 779.4 L638.3 782.3 L639.7 777.9 L641.9 791.1 L646.3 766.9 L650.7 767.6 L654.4 776.4 L656.6 755.9 L661.7 757.4 L666.1 802.8 L670.5 786.7 L672.7 789.6 L675.6 799.9 L680.0 775.0 L688.1 816.0 L694.7 792.5 L697.6 830.6 L699.8 836.5 L702.0 817.4 L704.2 854.8 L707.8 825.5 L710.0 846.7 L713.7 808.7 L717.4 807.2 L724.4 800.0 L726.6 843.2 L731.7 849.1 L733.9 866.7 L738.3 898.9 L742.0 852.0 L745.4 835.9 L747.9 852.0 L750.1 884.3 L755.2 854.2 L758.1 869.6 L761.8 894.5 L764.7 901.1 L769.8 887.2 L774.2 913.6 L777.9 926.7 L781.6 910.6 L785.2 935.5 L787.4 917.9 L792.5 941.4 L795.5 910.6 L801.3 894.5 L803.5 860.8 L805.7 863.8 L808.7 881.3 L812.3 872.5 L813.8 849.1 L818.2 822.7 L821.8 833.0 L824.8 850.6 L829.2 856.4 L829.9 872.5 L834.3 874.0 L836.5 849.1 L840.9 851.3 L845.3 860.8 L850.4 872.5 L851.1 881.3 L855.5 882.8 L859.2 903.3 L862.1 887.2 L867.2 900.4 L868.7 872.5 L873.1 881.3 L877.5 879.9 L879.7 852.0 L880.4 813.9 L881.9 802.2 L885.6 794.9 L888.5 806.6 L892.1 808.1 L894.3 770.0 L894.3 769.9 L894.4 752.3 L899.6 749.4 L902.5 762.6 L909.1 756.7 L911.3 731.8 L912.0 696.7 L914.9 692.3 L916.4 727.4 L918.6 724.5 L921.5 687.9 L923.0 643.9 L923.7 608.8 L926.7 607.3 L929.6 638.1 L930.5 589.9 L935.2 600.2 L940.3 613.4 L946.4 635.9 L949.8 609.0 L951.3 551.8 L952.7 528.4 L955.4 525.5 L956.8 546.0 L956.8 465.4 L958.6 464.7 L962.3 480.1 L963.7 490.3 L967.1 490.3 L968.1 522.5 L970.3 551.8 L972.9 585.5 L975.4 534.3 L978.4 532.1 L980.6 544.5 L984.2 546.0 L987.9 565.0 L993.0 565.8 L996.7 522.5 L999.6 524.0 L1002.5 531.3 L1006.2 507.9 L1008.4 485.9 L1012.1 487.4 L1012.8 509.4 L1015.0 472.7 L1017.9 472.7 L1019.4 505.0 L1023.0 461.0 L1026.7 461.0 L1028.9 478.6 L1030.4 443.4 L1034.8 440.5 L1037.0 447.8 L1039.9 446.4 L1042.8 425.9 L1042.8 425.8 L1045.4 393.8 L1047.6 369.6 L1049.8 402.5 L1051.3 446.5 L1054.9 491.9 L1057.9 458.2 L1060.8 456.0 L1064.1 481.5 L1067.0 541.6 L1069.9 541.6 L1073.6 506.4 L1077.2 501.3 L1080.2 513.8 L1082.4 544.5 L1084.9 534.3 L1086.0 560.6 L1089.0 557.7 L1091.9 519.6 L1094.1 512.3 L1097.8 515.9 L1102.9 528.4 L1105.8 526.9 L1108.0 487.4 L1111.7 515.2 L1116.8 471.3 L1119.0 469.8 L1121.2 499.1 L1123.4 472.7 L1126.8 437.6 L1131.4 446.4 L1133.5 440.0 L1134.5 420.0 L1135.5 380.0 L1136.0 260.0 L1138.5 187.5 L1142.0 249.0 L1145.0 185.3 L1148.1 188.8 L1150.5 260.0 L1151.6 356.4 L1154.0 320.0 L1156.0 300.0 L1157.0 275.0 L1158.6 267.6 L1160.8 279.4 L1163.7 261.8 L1166.0 291.0 L1168.0 330.0 L1173.6 424.5 L1175.0 355.7 L1178.0 352.7 L1180.9 326.4 L1185.3 328.6 L1186.8 260.0 L1189.9 246.8 L1192.0 248.0 L1193.8 270.6 L1195.2 286.8 L1197.4 266.2 L1200.3 300.0 L1202.6 252.0 L1205.3 250.0 L1207.9 228.0 L1211.4 206.8 L1214.0 204.2 L1216.7 219.1 L1219.3 201.5 L1222.0 199.8 L1224.1 219.1 L1227.2 236.7 L1229.0 249.9 L1231.6 250.7 L1234.3 205.0 L1237.3 192.7 L1240.0 148.8 L1243.3 198.0 L1246.3 145.7 L1249.6 163.7 L1252.3 163.7 L1255.3 219.0 L1259.3 224.4 L1262.4 256.9 L1265.0 257.8 L1271.2 229.6 L1273.8 229.6 L1278.2 257.8 L1280.8 227.9 L1283.5 227.0 L1284.9 302.9 L1288.2 272.1 L1291.2 291.2 L1293.4 285.3 L1294.8 330.0 L1297.4 379.8 L1301.5 331.5 L1305.9 394.5 L1309.3 366.7 L1312.5 393.8 L1316.1 436.2 L1319.8 349.8 L1323.5 344.7 L1325.7 427.4 L1329.3 414.3 L1333.0 428.9 L1333.9 434.6 L1334.6 478.6 L1336.8 502.0 L1342.0 515.2 L1345.6 496.2 L1346.7 455.2 L1350.0 453.0 L1352.5 439.8 L1355.9 458.1 L1358.8 485.9 L1361.7 461.0 L1363.2 432.5 L1367.6 433.2 L1371.3 421.5 L1373.5 456.6 L1377.9 446.4 L1381.5 481.5 L1383.7 461.0 L1386.4 451.5 L1388.8 468.3 L1391.8 480.1 L1392.5 524.0 L1396.9 505.0 L1399.1 551.8 L1400.6 585.5 L1404.2 551.8 L1405.7 519.6 L1408.6 513.8 L1411.6 526.9 L1415.2 508.6 L1418.1 522.5 L1421.8 540.1 L1425.5 541.6 L1429.1 592.9 L1432.1 546.0 L1435.0 581.1 L1437.2 610.4 L1443.0 585.5 L1446.0 535.7 L1448.9 537.2 L1451.8 562.8 L1455.5 537.2 L1458.4 526.9 L1464.3 538.7 L1467.2 499.1 L1472.3 507.9 L1473.1 481.5 L1476.0 479.3 L1478.9 493.2 L1484.8 493.2 L1487.0 481.5 L1488.5 434.6 L1492.1 422.2 L1495.8 421.5 L1498.0 456.6 L1501.6 507.9 L1504.6 519.6 L1508.2 510.8 L1510.4 478.6 L1511.2 427.3 L1513.4 426.6 L1515.6 478.6 L1519.2 496.2 L1522.9 576.7 L1526.5 566.5 L1529.5 609.0 L1529.5 643.1 L1533.0 615.3 L1535.9 600.6 L1540.3 587.4 L1543.2 629.9 L1546.9 555.2 L1551.3 553.8 L1552.0 531.8 L1554.9 524.5 L1558.6 527.4 L1559.3 499.6 L1563.0 496.6 L1567.4 513.5 L1572.5 509.8 L1573.2 473.2 L1576.2 472.5 L1579.1 503.9 L1582.8 496.6 L1585.0 499.6 L1587.9 549.4 L1592.3 544.2 L1595.9 559.6 L1600.3 555.2 L1603.7 581.6 L1609.1 558.1 L1612.8 547.9 L1616.5 600.6 L1617.9 537.6 L1624.5 542.0 L1625.7 553.8 L1628.2 540.6 L1632.6 542.0 L1634.0 549.4 L1638.4 527.4 L1642.1 498.8 L1644.3 499.6 L1646.5 506.9 L1647.9 547.9 L1652.3 566.9 L1656.7 549.4 L1660.4 545.0 L1662.6 484.9 L1665.2 468.8 L1666.2 455.5 L1669.1 449.6 L1671.5 478.9 L1672.1 566.9 L1674.4 494.1 L1677.9 495.3 L1681.6 511.3 L1682.6 481.3 L1686.7 475.4 L1689.1 474.2 L1691.4 485.9 L1693.8 467.2 L1695.5 448.4 L1698.4 452.0 L1703.1 485.9 L1706.1 455.5 L1707.2 427.3 L1709.6 443.8 L1711.3 441.4 L1714.8 423.8 L1717.2 437.9 L1718.9 448.4 L1722.5 446.1 L1724.2 426.2 L1727.1 447.3 L1728.9 432.0 L1732.4 426.2 L1734.8 437.9 L1738.9 460.2 L1743.0 443.8 L1747.7 420.3 L1751.2 385.2 L1754.1 365.2 L1756.4 396.9 L1760.0 399.2 L1761.7 453.1 L1765.2 432.0 L1767.0 401.6 L1769.3 400.4 L1772.3 410.9 L1773.4 467.2 L1773.4 525.9 L1775.4 558.1 L1778.3 511.3 L1780.5 504.7 L1784.2 537.6 L1787.1 524.5 L1790.0 525.9 L1790.8 547.9 L1793.7 555.2 L1795.9 581.6 L1800.0 594.7 L1802.4 634.3 L1808.4 598.7 L1812.3 559.1 L1814.3 553.2 L1817.6 571.0 L1820.9 573.6 L1823.5 564.4 L1825.1 555.8" stroke="#ea3943" clip-path="url(#dn)"/>
</g>
</g>
<g font-size="37.9" fill="#7e8592" opacity="0.99" stroke="#ffffff" stroke-width="0.5" paint-order="fill stroke">
<text x="1845.6" y="194.3">2.60</text>
<text x="1845.6" y="344.4">2.50</text>
<text x="1845.6" y="491.3">2.40</text>
<text x="1845.6" y="638.0">2.30</text>
<text x="1845.6" y="784.6">2.20</text>
<text x="1845.6" y="934.8">2.10</text>
<text x="1845.6" y="1081.7">2.00</text>
<text x="288.5" y="1320.6" text-anchor="middle" font-size="37.5">28 Apr</text>
<text x="694.0" y="1320.6" text-anchor="middle" font-size="37.5">5 May</text>
<text x="1101.5" y="1320.6" text-anchor="middle" font-size="37.5">12 May</text>
<text x="1507.5" y="1320.6" text-anchor="middle" font-size="37.5">19 May</text>
</g>
<text x="82" y="1384.4" font-size="38" fill="#000" opacity="0.99">25</text>
</svg></body></html>
